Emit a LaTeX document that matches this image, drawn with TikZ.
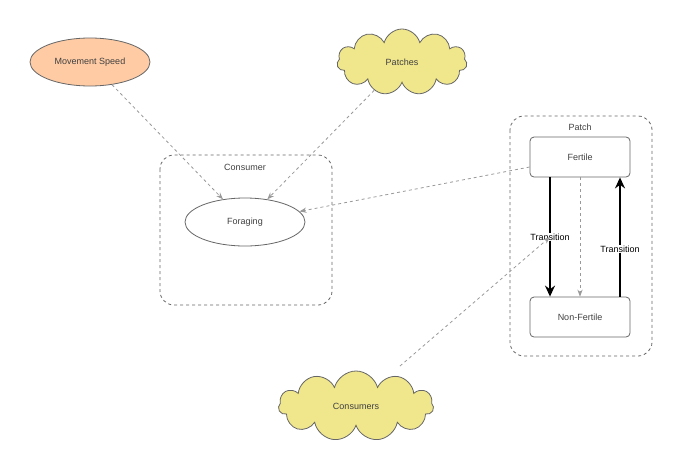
\documentclass[tikz,border=0pt]{standalone}
\usepackage{fontspec}
\setmainfont{Liberation Sans}
\usetikzlibrary{shapes.geometric,shapes.symbols,arrows.meta}
\definecolor{peach}{HTML}{FFCBA4}
\definecolor{khaki}{HTML}{F0E68C}
\definecolor{edge}{HTML}{666666}
\begin{document}
\begin{tikzpicture}[x=1pt,y=-1pt,
  every node/.style={font=\fontsize{9}{11}\selectfont, text=black!75},
  ell/.style={ellipse,draw=edge,thick,minimum width=120,minimum height=48,inner sep=0},
  cld/.style={cloud,cloud puffs=11,aspect=2.2,draw=edge,thick,fill=khaki,inner sep=0},
  box/.style={rectangle,rounded corners=4,draw=edge,thick,fill=white,minimum width=100,minimum height=40},
  grp/.style={draw=edge,thick,dashed,rounded corners=14},
  dep/.style={draw=black!40,thick,dashed,-{Stealth[length=7pt]}},
  tr/.style={draw=black,line width=2.2pt,-{Stealth[length=11pt,width=10pt]}},
  lbl/.style={fill=white,inner sep=1pt,text=black}]
\useasboundingbox (0,0) rectangle (685,469);
\draw[grp] (160,155) rectangle (332,305);
\node at (245,167) {Consumer};
\draw[grp] (510,116) rectangle (652,356);
\node at (580,127) {Patch};
\node[ell,fill=peach] (ms) at (90,62) {Movement Speed};
\node[cld,minimum width=130,minimum height=66] (pa) at (402,62) {Patches};
\node[cld,minimum width=155,minimum height=70] (co) at (356,406) {Consumers};
\node[ell,fill=white] (fo) at (245,222) {Foraging};
\node[box] (fe) at (580,157) {Fertile};
\node[box] (nf) at (580,317) {Non-Fertile};
\coordinate (cs) at (400,366);
\draw[dep] (ms) -- (fo);
\draw[dep] (pa) -- (fo);
\draw[dep] (fe.west) ++(0,10) -- (fo);
\draw[dep] (fe) -- (nf);
\draw[tr] (fe.south -| 550,0) -- (nf.north -| 550,0) node[midway,lbl] {Transition};
\draw[tr] (nf.north -| 620,0) -- (fe.south -| 620,0) node[pos=0.4,lbl] {Transition};
\draw[dep] (cs) -- (550,237);
\end{tikzpicture}
\end{document}
